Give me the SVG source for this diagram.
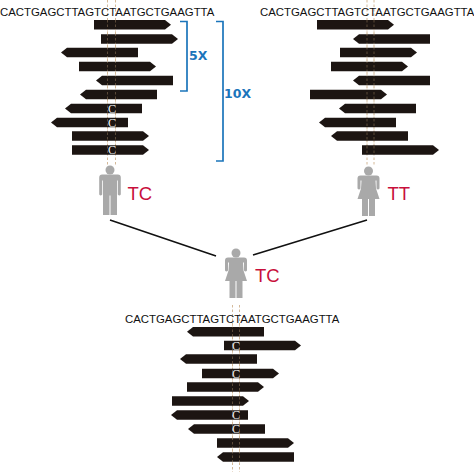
<svg xmlns="http://www.w3.org/2000/svg" width="474" height="474" viewBox="0 0 474 474">
<style>
.seq{font:11.4px "Liberation Sans",Arial,sans-serif;fill:#111}
.geno{font:18.5px "Liberation Sans",Arial,sans-serif;fill:#c8103c}
.cov{font:bold 12.5px "DejaVu Sans",sans-serif;fill:#1b75bb}
.base{font:12px "Liberation Serif",serif;fill:#f2f2f2;text-anchor:middle}
.read{fill:#1c1512}
.dash{stroke:#c9a77f;stroke-width:.8;stroke-dasharray:2.5 2;fill:none}
.dim{opacity:.45}
.br{stroke:#1b75bb;stroke-width:1.7;fill:none}
.fig{fill:#a9a9a9}
.link{stroke:#111;stroke-width:1.6;fill:none}
</style>
<defs>
<path id="r" class="read" d="M0-4.800H71L77 0 71 4.800H0Z"/>
<path id="l" class="read" d="M77-4.800H6L0 0 6 4.800H77Z"/>
<g id="man" class="fig"><circle cx="0" cy="4.500" r="4.500"/><path d="M-10.800 12Q-10.800 9-7.800 9H7.800Q10.800 9 10.800 12V29Q9.300 31 7.800 29V15H7V49.500H.5V30H-.5V49.500H-7V15H-7.800V29Q-9.300 31-10.800 29Z"/></g>
<g id="woman" class="fig"><circle cx="0" cy="4.500" r="4.500"/><path d="M-11 12Q-11 9-8 9H8Q11 9 11 12V22Q9.500 24 8 22V14H7L7.500 22 11 32.500H6.500V49.500H.5V32.500H-.5V49.500H-6.500V32.500H-11L-7.500 22-7 14H-8V22Q-9.500 24-11 22Z"/></g>
</defs>
<g id="connectors">
<path class="link" d="M110 220L216 256M253 255L367 220"/>
<path class="br" d="M180 21.500H187V91H180M216 21.500H223V161H216"/>
<path class="dash" d="M107.500 0V165M115.500 0V165M367 0V165M374 0V165M232.500 305V472M239.500 305V472"/>
</g>
<g id="panel-father">
<text class="seq" x="0" y="15.500">CACTGAGCTTAGTCTAATGCTGAAGTTA</text>
<use href="#r" x="94" y="24.700"/><use href="#r" x="101" y="39"/><use href="#l" x="61" y="52.500"/><use href="#r" x="79" y="66.500"/><use href="#l" x="96" y="80.500"/><use href="#l" x="80" y="94.500"/><use href="#l" x="65" y="108.500"/><use href="#l" x="51" y="122.500"/><use href="#r" x="72" y="136"/><use href="#r" x="72" y="150"/>
<path class="dash dim" d="M107.500 20V155M115.500 20V155"/>
<text class="base" x="112" y="112.500">C</text><text class="base" x="112" y="126.500">C</text><text class="base" x="112" y="154">C</text>
</g>
<g id="panel-mother">
<text class="seq" x="260" y="15.500">CACTGAGCTTAGTCTAATGCTGAAGTTA</text>
<use href="#r" x="317" y="24.700"/><use href="#l" x="353" y="39"/><use href="#r" x="340" y="52.500"/><use href="#r" x="331" y="66.500"/><use href="#l" x="353" y="80.500"/><use href="#r" x="310" y="94.500"/><use href="#l" x="339" y="108.500"/><use href="#l" x="319" y="122.500"/><use href="#l" x="331" y="136"/><use href="#r" x="362" y="150"/>
<path class="dash dim" d="M367 20V155M374 20V155"/>
</g>
<g id="panel-child">
<text class="seq" x="125" y="323">CACTGAGCTTAGTCTAATGCTGAAGTTA</text>
<use href="#l" x="187" y="331.700"/><use href="#r" x="224" y="345.500"/><use href="#l" x="180" y="359"/><use href="#r" x="202" y="373.500"/><use href="#r" x="187" y="387"/><use href="#r" x="172" y="401"/><use href="#l" x="171" y="415"/><use href="#l" x="188" y="429"/><use href="#r" x="217" y="443"/><use href="#l" x="217" y="457"/>
<path class="dash dim" d="M232.500 325V465M239.500 325V465"/>
<text class="base" x="236" y="349.500">C</text><text class="base" x="236" y="377.500">C</text><text class="base" x="236" y="419">C</text><text class="base" x="236" y="433">C</text>
</g>
<g id="cov-5x"><text class="cov" x="189" y="60">5X</text></g>
<g id="cov-10x"><text class="cov" x="224" y="98">10X</text></g>
<g id="father"><use href="#man" x="110" y="165.500"/><text class="geno" x="127.500" y="200">TC</text></g>
<g id="mother"><use href="#woman" x="368.500" y="166.500"/><text class="geno" x="387.500" y="200">TT</text></g>
<g id="child"><use href="#woman" x="236" y="248.500"/><text class="geno" x="255" y="282">TC</text></g>
</svg>
